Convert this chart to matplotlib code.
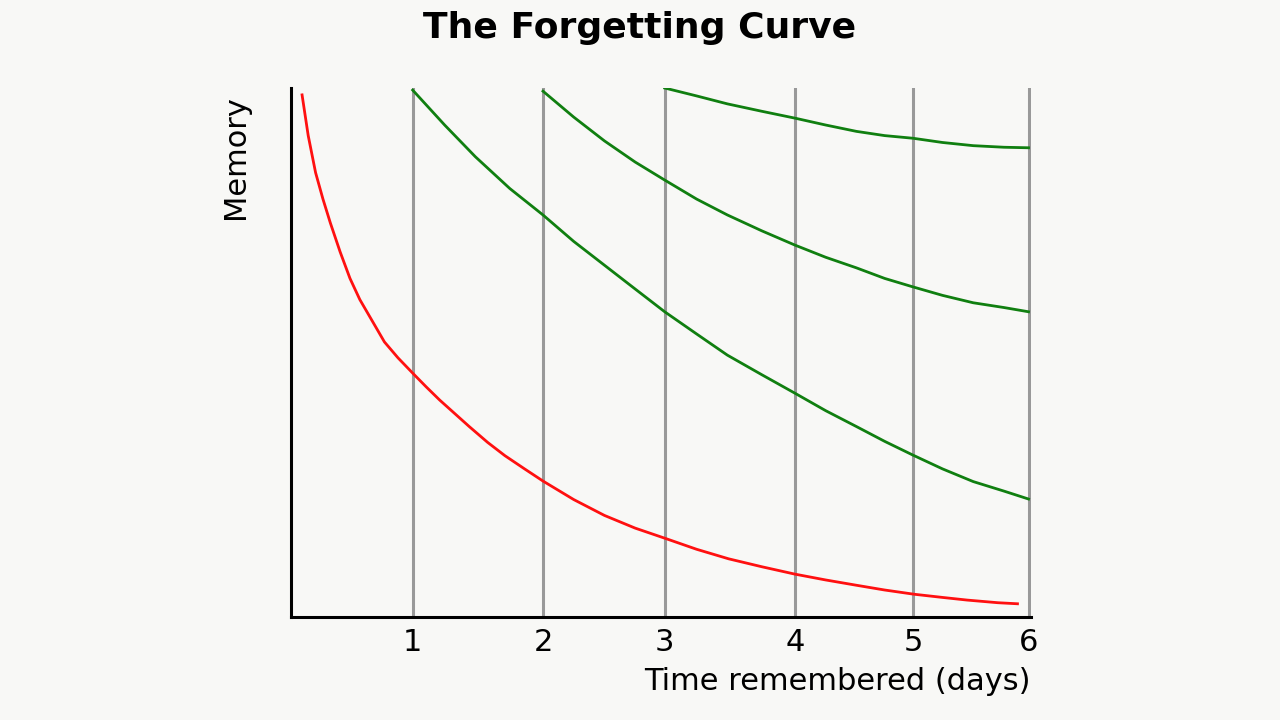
import matplotlib
matplotlib.use("Agg")
import matplotlib.pyplot as plt

tick_pos = [0.99, 2.05, 3.04, 4.10, 5.06, 6.0]
tick_labels = ["1", "2", "3", "4", "5", "6"]

red_x = [0.09, 0.14, 0.20, 0.26, 0.32, 0.40, 0.48, 0.56, 0.66, 0.76, 0.87, 0.99, 1.10, 1.21, 1.33, 1.45,
         1.60, 1.74, 1.90, 2.05, 2.30, 2.55, 2.80, 3.04, 3.30, 3.56, 3.83, 4.10, 4.35, 4.60, 4.83, 5.07, 5.30, 5.50, 5.75, 5.91]
red_y = [0.987, 0.91, 0.84, 0.79, 0.745, 0.69, 0.64, 0.60, 0.56, 0.52, 0.49, 0.461, 0.435, 0.41, 0.385, 0.36,
         0.33, 0.305, 0.28, 0.257, 0.222, 0.192, 0.168, 0.149, 0.128, 0.11, 0.095, 0.081, 0.07, 0.06, 0.051, 0.043, 0.037, 0.032, 0.027, 0.025]

g1_x = [0.99, 1.25, 1.5, 1.78, 2.05, 2.3, 2.55, 2.8, 3.04, 3.3, 3.55, 3.83, 4.10, 4.35, 4.6, 4.83, 5.06, 5.3, 5.55, 5.8, 6.0]
g1_y = [0.996, 0.93, 0.87, 0.81, 0.76, 0.71, 0.665, 0.62, 0.577, 0.535, 0.495, 0.458, 0.423, 0.39, 0.36, 0.332, 0.306, 0.28, 0.256, 0.238, 0.223]
g2_x = [2.05, 2.3, 2.55, 2.8, 3.04, 3.3, 3.55, 3.83, 4.10, 4.35, 4.6, 4.83, 5.06, 5.3, 5.55, 5.8, 6.0]
g2_y = [0.994, 0.945, 0.90, 0.86, 0.826, 0.79, 0.76, 0.73, 0.703, 0.68, 0.66, 0.64, 0.624, 0.608, 0.594, 0.585, 0.577]
g3_x = [3.04, 3.3, 3.55, 3.83, 4.10, 4.35, 4.6, 4.83, 5.06, 5.3, 5.55, 5.8, 6.0]
g3_y = [1.0, 0.985, 0.97, 0.956, 0.943, 0.93, 0.918, 0.91, 0.905, 0.897, 0.891, 0.888, 0.887]

bg = "#f8f8f6"
fig = plt.figure(figsize=(12.8, 7.2), dpi=100, facecolor=bg)
ax = fig.add_axes([291/1280, 1-617/720, (1031-291)/1280, (617-88)/720], facecolor=bg)
for t in tick_pos:
    ax.axvline(t, color="#999999", lw=2.2, zorder=1)
ax.plot(red_x, red_y, color="#ff1010", lw=2, zorder=3)
for xs, ys in [(g1_x, g1_y), (g2_x, g2_y), (g3_x, g3_y)]:
    ax.plot(xs, ys, color="#107f10", lw=2, zorder=3)
ax.set_xlim(0, 6.02)
ax.set_ylim(0, 1.0)
ax.spines[["top", "right"]].set_visible(False)
ax.spines["left"].set_linewidth(2.2)
ax.spines["bottom"].set_linewidth(2.2)
ax.set_xticks(tick_pos)
ax.set_xticklabels(tick_labels, fontsize=22)
ax.tick_params(axis="x", length=0, pad=8)
ax.set_yticks([])
ax.set_ylabel("Memory", fontsize=22)
ax.yaxis.set_label_coords(-0.055, 0.87)
ax.set_xlabel("Time remembered (days)", fontsize=22, ha="right", va="top")
ax.xaxis.set_label_coords(1.0, -0.095)
fig.suptitle("The Forgetting Curve", fontsize=26, fontweight="bold", y=0.985)
fig.savefig("out.png", dpi=100, facecolor=bg)
